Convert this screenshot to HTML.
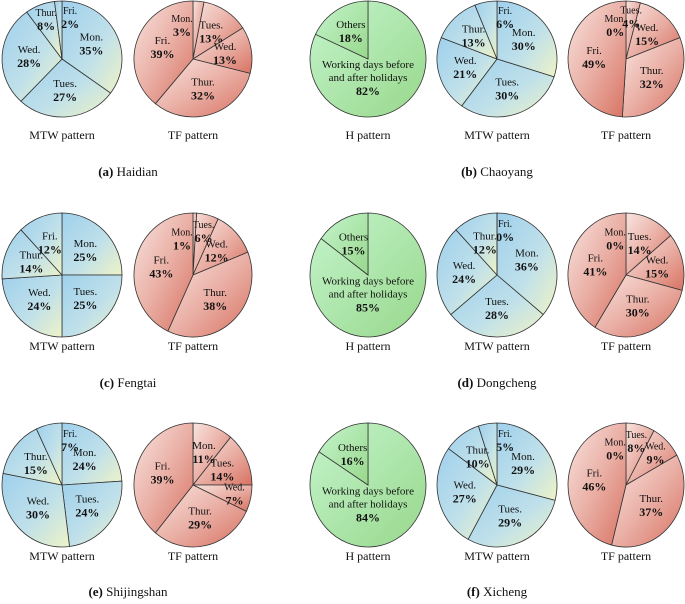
<!DOCTYPE html>
<html><head><meta charset="utf-8"><style>
html,body{margin:0;padding:0;background:#fff;}
svg{display:block;}
svg text{font-family:"Liberation Serif","DejaVu Serif",serif;}
</style></head><body>
<svg id="fig" width="685" height="604" viewBox="0 0 685 604" xmlns="http://www.w3.org/2000/svg">
<defs>
<linearGradient id="gB" x1="0" y1="0" x2="1" y2="1"><stop offset="0" stop-color="#9fd0ec"/><stop offset="0.55" stop-color="#bfe0ea"/><stop offset="1" stop-color="#eef3c6"/></linearGradient>
<linearGradient id="gR" x1="0" y1="0" x2="1" y2="1"><stop offset="0" stop-color="#f8e4df"/><stop offset="0.5" stop-color="#eab0a6"/><stop offset="1" stop-color="#d87262"/></linearGradient>
<linearGradient id="gG" x1="0" y1="0" x2="1" y2="1"><stop offset="0" stop-color="#c4f4cc"/><stop offset="1" stop-color="#98d88c"/></linearGradient>
</defs>
</svg>
<script>
const dayLabels=['Mon.','Tues.','Wed.','Thur.','Fri.'];
const hLabels=['Working days before\nand after holidays','Others'];
const haidianMTW=[35,27,28,8,2];
const haidianTF=[3,13,13,32,39];
const chaoyangH=[82,18];
const chaoyangMTW=[30,30,21,13,6];
const chaoyangTF=[0,4,15,32,49];
const fengtaiMTW=[25,25,24,14,12];
const fengtaiTF=[1,6,12,38,43];
const dongchengH=[85,15];
const dongchengMTW=[36,28,24,12,0];
const dongchengTF=[0,14,15,30,41];
const shijingshanMTW=[24,24,30,15,7];
const shijingshanTF=[11,14,7,29,39];
const xichengH=[84,16];
const xichengMTW=[29,29,27,10,5];
const xichengTF=[0,8,9,37,46];

const svg=document.getElementById('fig');
const NS='http://www.w3.org/2000/svg';
const FF='"Liberation Serif","DejaVu Serif",serif';
function mk(tag,attrs,parent){const e=document.createElementNS(NS,tag);for(const k in attrs)e.setAttribute(k,attrs[k]);(parent||svg).appendChild(e);return e;}

function drawPie(name,vals,labels,fill,cx,cy,rx,ry,isH){
  const g=mk('g',{});
  
  
  const tot=vals.reduce((a,b)=>a+b,0);
  const pt=(f,k)=>{const a=f*2*Math.PI;return [cx+k*rx*Math.sin(a),cy-k*ry*Math.cos(a)];};
  let acc=0;
  const spans=vals.map(v=>{const f0=acc/tot;acc+=v;return [f0,acc/tot];});
  vals.forEach((v,i)=>{
    const [f0,f1]=spans[i];
    let p;
    if(v<=0){const[x,y]=pt(f0,1);p=`M${cx},${cy}L${x},${y}Z`;}
    else{const[x0,y0]=pt(f0,1),[x1,y1]=pt(f1,1);const large=(f1-f0)>0.5?1:0;
      p=`M${cx},${cy}L${x0},${y0}A${rx},${ry} 0 ${large} 1 ${x1},${y1}Z`;}
    const s=mk('path',{d:p,fill:fill,stroke:'#333','stroke-width':0.8},g);
    
    
  });
  vals.forEach((v,i)=>{
    const [f0,f1]=spans[i];
    const fm=(f0+f1)/2;
    let lx,ly;
    if(isH&&i===0){lx=cx;ly=cy+0.22*ry;}
    else if(v>=10){[lx,ly]=pt(fm,0.55);}
    else if(!isH&&i===0){[lx,ly]=pt(-0.05,0.6);}
    else if(!isH&&i===4){[lx,ly]=pt(0.03,0.72);}
    else{[lx,ly]=pt(fm,0.72);}
    const t=mk('text',{x:lx,y:ly-4,'text-anchor':'middle','font-size':v>=10||isH?11:10,fill:'#111','font-family':FF},g);
    
    
    const lines=labels[i].split('\n');
    lines.forEach((ln,j)=>{const ts=mk('tspan',{x:lx,dy:j===0?0:13},t);ts.textContent=ln;});
    const pc=mk('tspan',{x:lx,dy:14,'font-weight':'bold','font-size':12},t);pc.textContent=v+'%';
  });
}
function txt(name,x,y,s,size){const t=mk('text',{x:x,y:y,'text-anchor':'middle','font-size':size,fill:'#111','font-family':FF});
  t.innerHTML=s;return t;}

const rows=[{cy:59,ry:58,ly:139,cap:176},{cy:275,ry:62,ly:350,cap:387},{cy:485,ry:62,ly:560,cap:596}];
const leftPanels=[['haidian',haidianMTW,haidianTF,'(a)','Haidian'],['fengtai',fengtaiMTW,fengtaiTF,'(c)','Fengtai'],['shijingshan',shijingshanMTW,shijingshanTF,'(e)','Shijingshan']];
const rightPanels=[['chaoyang',chaoyangH,chaoyangMTW,chaoyangTF,'(b)','Chaoyang'],['dongcheng',dongchengH,dongchengMTW,dongchengTF,'(d)','Dongcheng'],['xicheng',xichengH,xichengMTW,xichengTF,'(f)','Xicheng']];
rows.forEach((r,i)=>{
  const L=leftPanels[i],R=rightPanels[i];
  drawPie(L[0]+'-mtw-pie',L[1],dayLabels,'url(#gB)',62,r.cy,60,r.ry,false);
  drawPie(L[0]+'-tf-pie',L[2],dayLabels,'url(#gR)',193,r.cy,59,r.ry,false);
  txt(L[0]+'-mtw-title',62,r.ly,'MTW pattern',12);
  txt(L[0]+'-tf-title',193,r.ly,'TF pattern',12);
  txt(L[0]+'-caption',128,r.cap,'<tspan font-weight="bold">'+L[3]+'</tspan> '+L[4],13);
  drawPie(R[0]+'-h-pie',R[1],hLabels,'url(#gG)',368,r.cy,58,r.ry,true);
  drawPie(R[0]+'-mtw-pie',R[2],dayLabels,'url(#gB)',497,r.cy,60,r.ry,false);
  drawPie(R[0]+'-tf-pie',R[3],dayLabels,'url(#gR)',626,r.cy,58,r.ry,false);
  txt(R[0]+'-h-title',368,r.ly,'H pattern',12);
  txt(R[0]+'-mtw-title',497,r.ly,'MTW pattern',12);
  txt(R[0]+'-tf-title',626,r.ly,'TF pattern',12);
  txt(R[0]+'-caption',497,r.cap,'<tspan font-weight="bold">'+R[4]+'</tspan> '+R[5],13);
});
</script>
</body></html>
